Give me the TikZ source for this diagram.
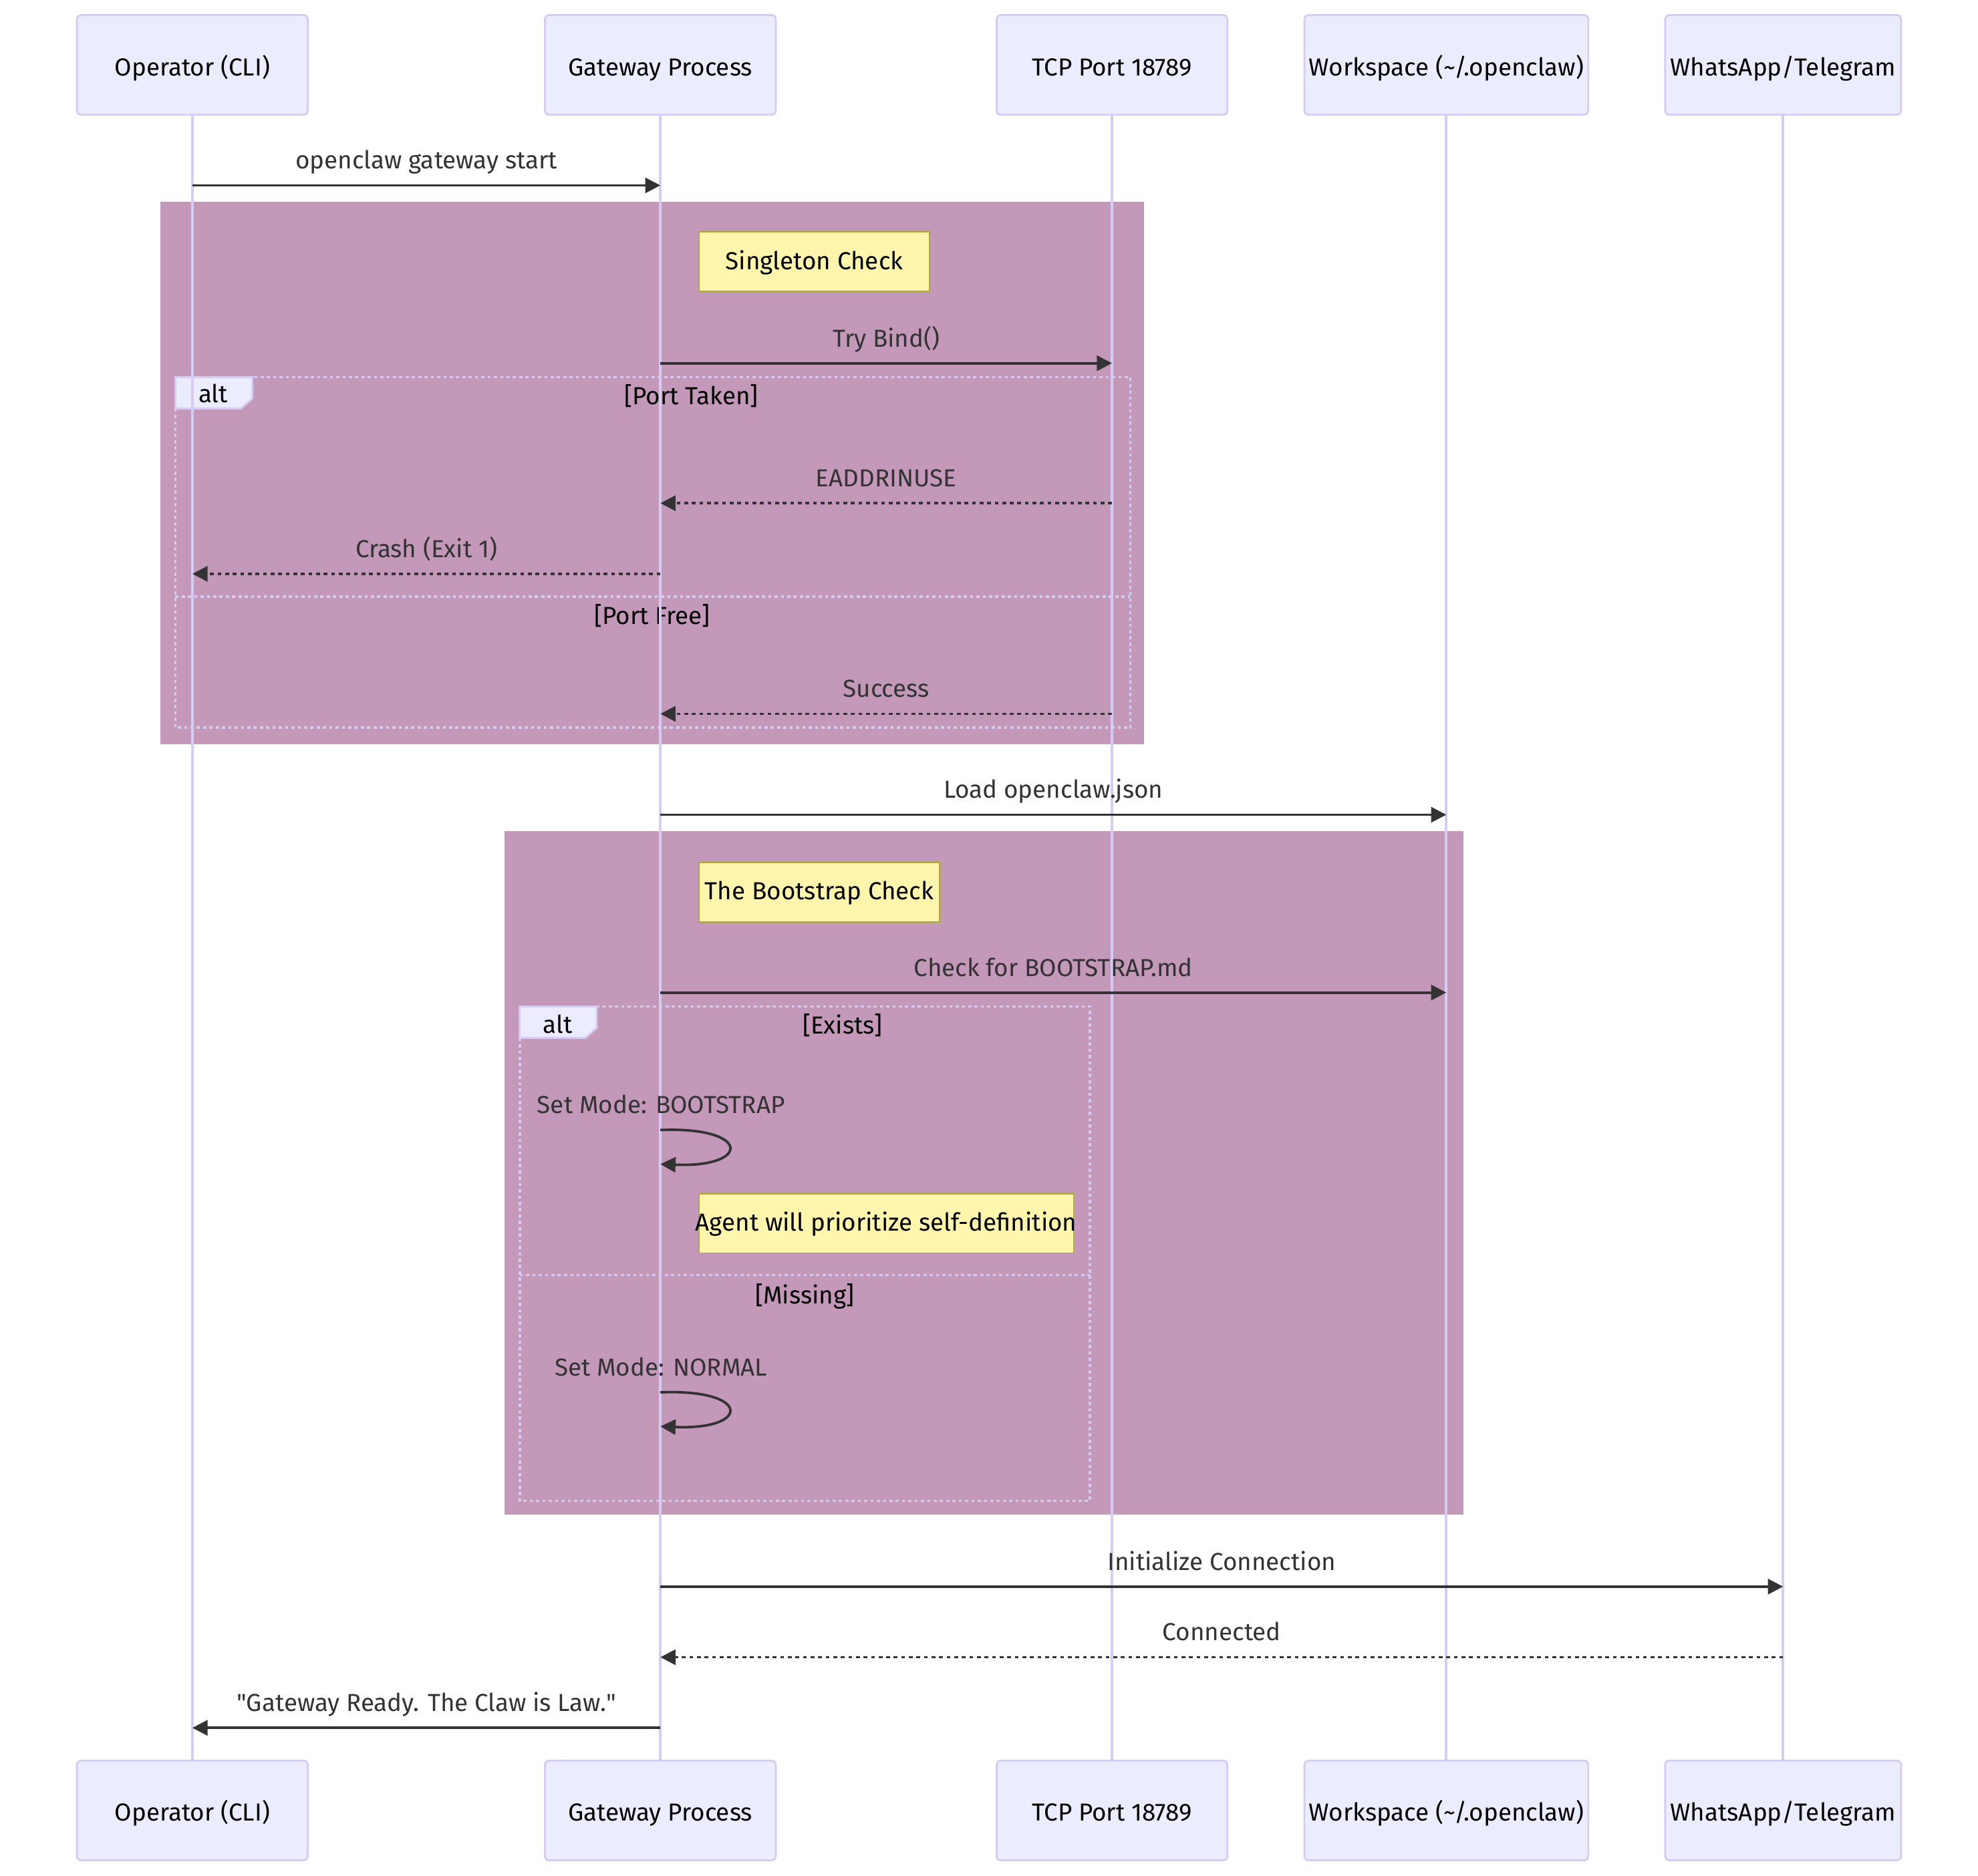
\documentclass[tikz,border=0pt]{standalone}
\usepackage{fontspec}
\setmainfont{Fira Sans}
\usetikzlibrary{arrows.meta}
\definecolor{actorfill}{HTML}{ECECFF}
\definecolor{actorline}{HTML}{D5CCF3}
\definecolor{boxfill}{HTML}{C498B8}
\definecolor{notefill}{HTML}{FFF5AD}
\definecolor{noteline}{HTML}{AAAA33}
\definecolor{ink}{HTML}{333333}

\begin{document}
\begin{tikzpicture}[x=1pt, y=-1pt,
        font=\fontsize{19.5}{22}\selectfont,
        actor/.style={draw=actorline, fill=actorfill, line width=1.5pt, rounded corners=3pt, minimum height=79pt, inner sep=0pt, text height=17pt, text depth=0pt},
        note/.style={draw=noteline, fill=notefill, line width=1pt, minimum height=47pt, inner sep=0pt, text height=14pt, text depth=2pt},
        life/.style={draw=actorline, line width=2pt},
        frame/.style={draw=actorline, line width=2pt, dash pattern=on 2.5pt off 2.5pt},
        alttab/.style={draw=actorline, fill=actorfill, line width=1.5pt},
        msg/.style={draw=ink, line width=2pt, -{Triangle[length=12pt,width=12pt]}},
        reply/.style={msg, dash pattern=on 3pt off 3pt},
        lbl/.style={text=ink, anchor=base, yshift=13pt, inner sep=0pt},
        selflbl/.style={text=ink, anchor=base, inner sep=0pt},
        guard/.style={anchor=base, inner sep=0pt}]
    \useasboundingbox (0,0) rectangle (1568,1487);
    % participants
    \node[actor, minimum width=183pt] (op)  at (152.5,51.5) {Operator (CLI)};
    \node[actor, minimum width=183pt] (gw)  at (523.5,51.5) {Gateway Process};
    \node[actor, minimum width=183pt] (tcp) at (881.5,51.5) {TCP Port 18789};
    \node[actor, minimum width=225pt] (ws)  at (1146.5,51.5) {Workspace (\textasciitilde/.openclaw)};
    \node[actor, minimum width=187pt] (wa)  at (1413.5,51.5) {WhatsApp/Telegram};
    \node[actor, minimum width=183pt] (opb)  at (152.5,1435.5) {Operator (CLI)};
    \node[actor, minimum width=183pt] (gwb)  at (523.5,1435.5) {Gateway Process};
    \node[actor, minimum width=183pt] (tcpb) at (881.5,1435.5) {TCP Port 18789};
    \node[actor, minimum width=225pt] (wsb)  at (1146.5,1435.5) {Workspace (\textasciitilde/.openclaw)};
    \node[actor, minimum width=187pt] (wab)  at (1413.5,1435.5) {WhatsApp/Telegram};
    % rect blocks
    \fill[boxfill] (127,160) rectangle (907,590);
    \fill[boxfill] (400,659) rectangle (1160,1201);
    % alt frames
    \draw[frame] (139,299) rectangle (896,577);
    \draw[frame] (139,473) -- (896,473);
    \draw[alttab] (139,299) -- (200,299) -- (200,316) -- (191,324) -- (139,324) -- cycle;
    \node[guard] (alt1) at (169,319) {alt};
    \node[guard] (taken) at (548,321) {[Port Taken]};
    \node[guard] (free) at (517,495) {[Port Free]};
    \draw[frame] (412,798) rectangle (864,1190);
    \draw[frame] (412,1011) -- (864,1011);
    \draw[alttab] (412,798) -- (473,798) -- (473,815) -- (464,823) -- (412,823) -- cycle;
    \node[guard] (alt2) at (442,819) {alt};
    \node[guard] (exists) at (668,820) {[Exists]};
    \node[guard] (missing) at (638,1034) {[Missing]};
    % lifelines
    \draw[life] (op) -- (opb);
    \draw[life] (gw) -- (gwb);
    \draw[life] (tcp) -- (tcpb);
    \draw[life] (ws) -- (wsb);
    \draw[life] (wa) -- (wab);
    % notes
    \node[note, minimum width=183pt] (single) at (645.5,207.5) {Singleton Check};
    \node[note, minimum width=191pt] (bootnote) at (649.5,707.5) {The Bootstrap Check};
    \node[note, minimum width=297pt] (agent) at (702.5,970) {\makebox[0pt]{Agent will prioritize self-definition}};
    % message rows
    \coordinate (start) at (0,147);
    \coordinate (bind) at (0,288);
    \coordinate (inuse) at (0,399);
    \coordinate (crash) at (0,455);
    \coordinate (ok) at (0,566);
    \coordinate (load) at (0,646);
    \coordinate (chk) at (0,787);
    \coordinate (boot) at (0,896);
    \coordinate (bootend) at (0,923);
    \coordinate (normal) at (0,1104);
    \coordinate (normalend) at (0,1131);
    \coordinate (init) at (0,1258);
    \coordinate (conn) at (0,1314);
    \coordinate (ready) at (0,1370);
    \draw[msg] (op |- start) -- node[lbl] {openclaw gateway start} (gw |- start);
    \draw[msg] (gw |- bind) -- node[lbl] {Try Bind()} (tcp |- bind);
    \draw[reply] (tcp |- inuse) -- node[lbl] {EADDRINUSE} (gw |- inuse);
    \draw[reply] (gw |- crash) -- node[lbl] {Crash (Exit 1)} (op |- crash);
    \draw[reply] (tcp |- ok) -- node[lbl] {Success} (gw |- ok);
    \draw[msg] (gw |- load) -- node[lbl] {Load openclaw.json} (ws |- load);
    \draw[msg] (gw |- chk) -- node[lbl] {Check for BOOTSTRAP.md} (ws |- chk);
    \node[selflbl] (bootlbl) at (524,883) {Set Mode: BOOTSTRAP};
    \draw[msg] (gw |- boot) .. controls +(72,-3) and +(72,3) .. (gw |- bootend);
    \node[selflbl] (normlbl) at (524,1091) {Set Mode: NORMAL};
    \draw[msg] (gw |- normal) .. controls +(72,-3) and +(72,3) .. (gw |- normalend);
    \draw[msg] (gw |- init) -- node[lbl] {Initialize Connection} (wa |- init);
    \draw[reply] (wa |- conn) -- node[lbl] {Connected} (gw |- conn);
    \draw[msg] (gw |- ready) -- node[lbl] {\textquotedbl Gateway Ready. The Claw is Law.\textquotedbl} (op |- ready);
\end{tikzpicture}
\end{document}
